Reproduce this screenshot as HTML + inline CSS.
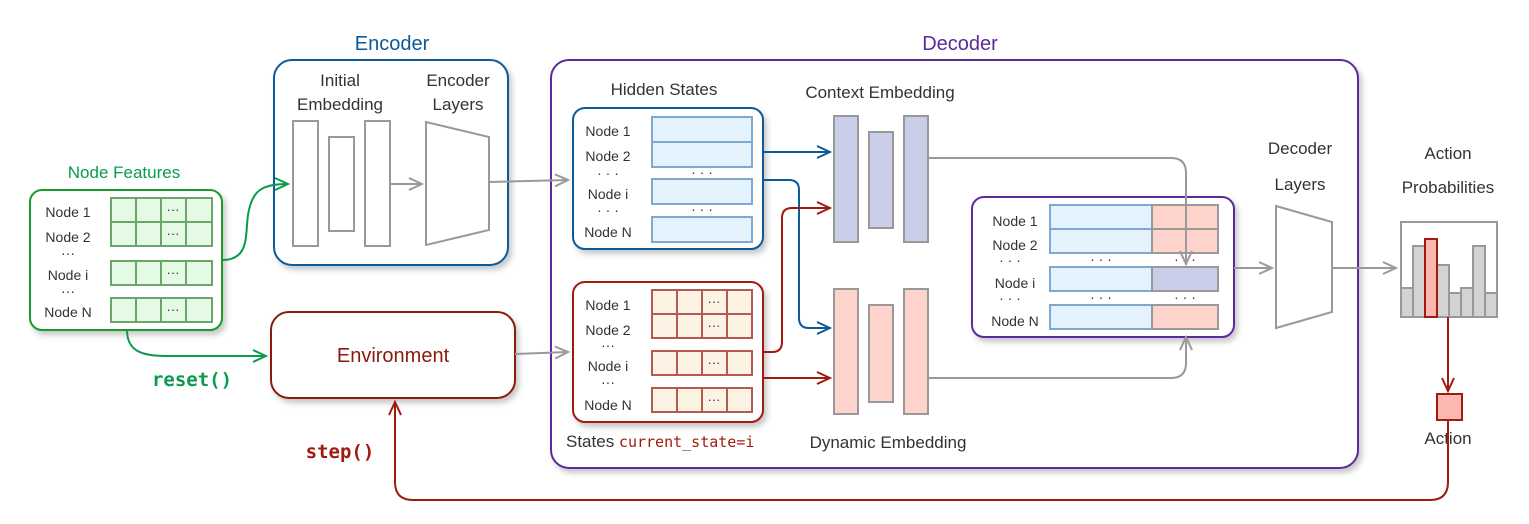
<!DOCTYPE html>
<html><head><meta charset="utf-8"><style>
html,body{margin:0;padding:0;background:#fff}
svg{display:block}
text{font-family:"Liberation Sans","DejaVu Sans",sans-serif;fill:#333}
.m{font-family:"DejaVu Sans Mono","Liberation Mono",monospace}
</style></head><body>
<svg width="1529" height="524" viewBox="0 0 1529 524" xmlns="http://www.w3.org/2000/svg">
<defs>
<filter id="sh" x="-10%" y="-10%" width="130%" height="130%"><feDropShadow dx="3" dy="4" stdDeviation="3" flood-color="#000" flood-opacity="0.22"/></filter>
<marker id="ag" markerWidth="16" markerHeight="14" refX="14" refY="7" orient="auto" markerUnits="userSpaceOnUse"><path d="M1,1 L14,7 L1,13" fill="none" stroke="#999" stroke-width="2"/></marker>
<marker id="agr" markerWidth="16" markerHeight="14" refX="14" refY="7" orient="auto" markerUnits="userSpaceOnUse"><path d="M1,1 L14,7 L1,13" fill="none" stroke="#0a9a50" stroke-width="2"/></marker>
<marker id="ab" markerWidth="16" markerHeight="14" refX="14" refY="7" orient="auto" markerUnits="userSpaceOnUse"><path d="M1,1 L14,7 L1,13" fill="none" stroke="#0d5a9a" stroke-width="2"/></marker>
<marker id="ar" markerWidth="16" markerHeight="14" refX="14" refY="7" orient="auto" markerUnits="userSpaceOnUse"><path d="M1,1 L14,7 L1,13" fill="none" stroke="#a01a10" stroke-width="2"/></marker>
</defs>

<rect x="30" y="190" width="192" height="140" rx="12" fill="#fff" stroke="#1a9a2a" stroke-width="2" filter="url(#sh)"/>
<rect x="274" y="60" width="234" height="205" rx="18" fill="#fff" stroke="#0d5a9a" stroke-width="2" filter="url(#sh)"/>
<rect x="551" y="60" width="807" height="408" rx="18" fill="#fff" stroke="#5b2a9a" stroke-width="2" filter="url(#sh)"/>
<rect x="271" y="312" width="244" height="86" rx="18" fill="#fff" stroke="#8b1a10" stroke-width="2" filter="url(#sh)"/>
<rect x="573" y="108" width="190" height="141" rx="12" fill="#fff" stroke="#0d5a9a" stroke-width="2" filter="url(#sh)"/>
<rect x="573" y="282" width="190" height="140" rx="12" fill="#fff" stroke="#a01a10" stroke-width="2" filter="url(#sh)"/>
<rect x="972" y="197" width="262" height="140" rx="12" fill="#fff" stroke="#5b2a9a" stroke-width="2" filter="url(#sh)"/>

<text x="124" y="178" text-anchor="middle" font-size="17" style="fill:#0a9a50">Node Features</text>
<text x="392" y="50" text-anchor="middle" font-size="20" style="fill:#0d5a9a">Encoder</text>
<text x="960" y="50" text-anchor="middle" font-size="20" style="fill:#5b2a9a">Decoder</text>
<text x="340" y="86" text-anchor="middle" font-size="17">Initial</text>
<text x="340" y="110" text-anchor="middle" font-size="17">Embedding</text>
<text x="458" y="86" text-anchor="middle" font-size="17">Encoder</text>
<text x="458" y="110" text-anchor="middle" font-size="17">Layers</text>
<text x="664" y="95" text-anchor="middle" font-size="17">Hidden States</text>
<text x="880" y="98" text-anchor="middle" font-size="17">Context Embedding</text>
<text x="888" y="448" text-anchor="middle" font-size="17">Dynamic Embedding</text>
<text x="566" y="447" font-size="17">States <tspan class="m" style="fill:#a01a10" font-size="15">current_state=i</tspan></text>
<text x="1300" y="154" text-anchor="middle" font-size="17">Decoder</text>
<text x="1300" y="190" text-anchor="middle" font-size="17">Layers</text>
<text x="1448" y="159" text-anchor="middle" font-size="17">Action</text>
<text x="1448" y="193" text-anchor="middle" font-size="17">Probabilities</text>
<text x="1448" y="444" text-anchor="middle" font-size="17">Action</text>
<text x="393" y="362" text-anchor="middle" font-size="20" style="fill:#8b1a10">Environment</text>
<text x="192" y="386" text-anchor="middle" font-size="19" font-weight="bold" class="m" style="fill:#0a9a50">reset()</text>
<text x="340" y="458" text-anchor="middle" font-size="19" font-weight="bold" class="m" style="fill:#a01a10">step()</text>

<g font-size="14" text-anchor="middle">
<text x="68" y="217">Node 1</text><text x="68" y="242">Node 2</text><text x="68" y="258">···</text>
<text x="68" y="280">Node i</text><text x="68" y="296">···</text><text x="68" y="317">Node N</text>
</g>
<g fill="#e4fae4" stroke="#6aa56a" stroke-width="2">
<rect x="111" y="198" width="101" height="24"/><rect x="111" y="222" width="101" height="24"/>
<rect x="111" y="261" width="101" height="24"/><rect x="111" y="298" width="101" height="24"/>
<path d="M136,198V246M161,198V246M186,198V246M136,261V285M161,261V285M186,261V285M136,298V322M161,298V322M186,298V322"/>
</g>
<g font-size="13" text-anchor="middle" style="fill:#555"><text x="173" y="214">···</text><text x="173" y="238">···</text><text x="173" y="277">···</text><text x="173" y="314">···</text></g>

<g fill="#fff" stroke="#999" stroke-width="2">
<rect x="293" y="121" width="25" height="125"/><rect x="329" y="137" width="25" height="94"/><rect x="365" y="121" width="25" height="125"/>
<path d="M426,122 L489,137 L489,230 L426,245Z"/>
</g>

<g font-size="14" text-anchor="middle">
<text x="608" y="136">Node 1</text><text x="608" y="161">Node 2</text><text x="608" y="178">· · ·</text>
<text x="608" y="199">Node i</text><text x="608" y="215">· · ·</text><text x="608" y="237">Node N</text>
</g>
<g fill="#e4f2fd" stroke="#7fa8d0" stroke-width="2">
<rect x="652" y="117" width="100" height="25"/><rect x="652" y="142" width="100" height="25"/>
<rect x="652" y="179" width="100" height="25"/><rect x="652" y="217" width="100" height="25"/>
</g>
<g font-size="14" text-anchor="middle" style="fill:#555"><text x="702" y="177">· · ·</text><text x="702" y="214">· · ·</text></g>

<g font-size="14" text-anchor="middle">
<text x="608" y="310">Node 1</text><text x="608" y="335">Node 2</text><text x="608" y="350">···</text>
<text x="608" y="371">Node i</text><text x="608" y="387">···</text><text x="608" y="410">Node N</text>
</g>
<g fill="#fdf3e4" stroke="#b55a50" stroke-width="2">
<rect x="652" y="290" width="100" height="24"/><rect x="652" y="314" width="100" height="24"/>
<rect x="652" y="351" width="100" height="24"/><rect x="652" y="388" width="100" height="24"/>
<path d="M677,290V338M702,290V338M727,290V338M677,351V375M702,351V375M727,351V375M677,388V412M702,388V412M727,388V412"/>
</g>
<g font-size="13" text-anchor="middle" style="fill:#555"><text x="714" y="306">···</text><text x="714" y="330">···</text><text x="714" y="367">···</text><text x="714" y="404">···</text></g>

<g fill="#c9cde8" stroke="#999" stroke-width="2">
<rect x="834" y="116" width="24" height="126"/><rect x="869" y="132" width="24" height="96"/><rect x="904" y="116" width="24" height="126"/>
</g>
<g fill="#fdd3cc" stroke="#999" stroke-width="2">
<rect x="834" y="289" width="24" height="125"/><rect x="869" y="305" width="24" height="97"/><rect x="904" y="289" width="24" height="125"/>
</g>

<g font-size="14" text-anchor="middle">
<text x="1015" y="226">Node 1</text><text x="1015" y="250">Node 2</text><text x="1010" y="265">· · ·</text>
<text x="1015" y="288">Node i</text><text x="1010" y="303">· · ·</text><text x="1015" y="326">Node N</text>
</g>
<g stroke-width="2">
<g fill="#e4f2fd" stroke="#7fa8d0">
<rect x="1050" y="205" width="102" height="24"/><rect x="1050" y="229" width="102" height="24"/>
<rect x="1050" y="267" width="102" height="24"/><rect x="1050" y="305" width="102" height="24"/>
</g>
<g stroke="#999">
<rect x="1152" y="205" width="66" height="24" fill="#fdd3cc"/><rect x="1152" y="229" width="66" height="24" fill="#fdd3cc"/>
<rect x="1152" y="267" width="66" height="24" fill="#c9cde8"/><rect x="1152" y="305" width="66" height="24" fill="#fdd3cc"/>
</g>
</g>
<g font-size="14" text-anchor="middle" style="fill:#555"><text x="1101" y="264">· · ·</text><text x="1185" y="264">· · ·</text><text x="1101" y="302">· · ·</text><text x="1185" y="302">· · ·</text></g>

<path d="M1276,206 L1332,222 L1332,312 L1276,328Z" fill="#fff" stroke="#999" stroke-width="2"/>

<rect x="1401" y="222" width="96" height="95" fill="#fff" stroke="#999" stroke-width="2"/>
<g fill="#d3d3d3" stroke="#999" stroke-width="2">
<rect x="1401" y="288" width="12" height="29"/><rect x="1413" y="246" width="12" height="71"/>
<rect x="1437" y="265" width="12" height="52"/><rect x="1449" y="293" width="12" height="24"/>
<rect x="1461" y="288" width="12" height="29"/><rect x="1473" y="246" width="12" height="71"/>
<rect x="1485" y="293" width="12" height="24"/>
</g>
<rect x="1425" y="239" width="12" height="78" fill="#fbb8b0" stroke="#a01a10" stroke-width="2"/>
<rect x="1437" y="394" width="25" height="26" fill="#fbb8b0" stroke="#a01a10" stroke-width="2"/>

<g fill="none" stroke-width="2">
<path d="M222,260 C250,260 245,235 248,215 C252,190 262,184 288,184" stroke="#0a9a50" marker-end="url(#agr)"/>
<path d="M127,330 C127,350 140,356 166,356 L266,356" stroke="#0a9a50" marker-end="url(#agr)"/>
<path d="M390,184 L422,184" stroke="#999" marker-end="url(#ag)"/>
<path d="M489,182 L568,180" stroke="#999" marker-end="url(#ag)"/>
<path d="M515,354 L568,352" stroke="#999" marker-end="url(#ag)"/>
<path d="M763,152 L830,152" stroke="#0d5a9a" marker-end="url(#ab)"/>
<path d="M763,180 L789,180 Q799,180 799,190 L799,318 Q799,328 809,328 L830,328" stroke="#0d5a9a" marker-end="url(#ab)"/>
<path d="M763,352 L772,352 Q782,352 782,342 L782,218 Q782,208 792,208 L830,208" stroke="#a01a10" marker-end="url(#ar)"/>
<path d="M763,378 L830,378" stroke="#a01a10" marker-end="url(#ar)"/>
<path d="M928,158 L1171,158 Q1186,158 1186,173 L1186,264" stroke="#999" marker-end="url(#ag)"/>
<path d="M928,378 L1171,378 Q1186,378 1186,363 L1186,337" stroke="#999" marker-end="url(#ag)"/>
<path d="M1234,268 L1272,268" stroke="#999" marker-end="url(#ag)"/>
<path d="M1332,268 L1396,268" stroke="#999" marker-end="url(#ag)"/>
<path d="M1448,317 L1448,391" stroke="#a01a10" marker-end="url(#ar)"/>
<path d="M1448,420 L1448,482 Q1448,500 1430,500 L413,500 Q395,500 395,482 L395,402" stroke="#a01a10" marker-end="url(#ar)"/>
</g>
</svg>
</body></html>
